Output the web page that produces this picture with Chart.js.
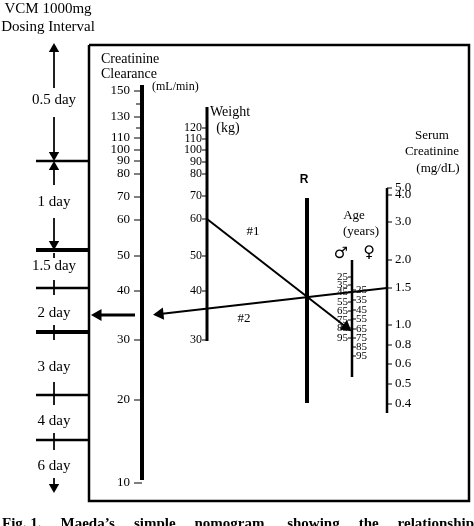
<!DOCTYPE html><html><head><meta charset="utf-8">
<script src="https://cdn.jsdelivr.net/npm/chart.js@4"></script>
<style>html,body{margin:0;padding:0;background:#fff}canvas{display:block}</style></head><body>
<canvas id="c" width="474" height="526"></canvas>
<script>
// Nomogram scales: tick values and their positions on the page grid
const crclTicks = [150,130,110,100,90,80,70,60,50,40,30,20,10];
const crclPos   = [91,117,138,150,161,174,197,220,256,291,340,400,483];
const crclMinor = [104,128];
const weightTicks = [120,110,100,90,80,70,60,50,40,30];
const weightPos   = [128,139,150,162,174,196,219,256,291,340];
const scrTicks = ['5.0','4.0','3.0','2.0','1.5','1.0','0.8','0.6','0.5','0.4'];
const scrPos   = [188,195,222,260,288,325,345,364,384,404];
const ageMale = [25,35,45,55,65,75,85,95];
const ageMalePos = [277,285,292,302,311,320,328,338];
const ageFemale = [25,35,45,55,65,75,85,95];
const ageFemalePos = [290,300,310,319,329,338,347,356];
const intervals = ['0.5 day','1 day','1.5 day','2 day','3 day','4 day','6 day'];
const intervalLabelPos = [100,202,266,313,367,421,466];
const intervalBounds = [161,250,288,332,395,440];
const captionWords = ['Fig. 1.','Maeda\u2019s','simple','nomogram,','showing','the','relationship'];

const X = {crcl:142, weight:207, R:307, age:352, scr:387, box:[89,469], interval:54};
const seg=(pts,w,extra={})=>Object.assign({data:pts.map(p=>({x:p[0],y:p[1]})),showLine:true,borderColor:'#000',borderWidth:w,pointRadius:0,fill:false},extra);
const ds=[];
ds.push(seg([[X.box[0],45],[X.box[1],45],[X.box[1],501],[X.box[0],501],[X.box[0],45]],2.5));
ds.push(seg([[X.crcl,85],[X.crcl,480]],4));
ds.push(seg([[X.weight,107],[X.weight,341]],3));
ds.push(seg([[X.R,198],[X.R,403]],4));
ds.push(seg([[X.age,260],[X.age,377]],2.5));
ds.push(seg([[X.scr,188],[X.scr,413]],2.5));
crclPos.forEach(y=>ds.push(seg([[X.crcl-8,y],[X.crcl,y]],1)));
crclMinor.forEach(y=>ds.push(seg([[X.crcl-6,y],[X.crcl,y]],1)));
weightPos.forEach(y=>ds.push(seg([[X.weight-5,y],[X.weight,y]],1)));
scrPos.forEach(y=>ds.push(seg([[X.scr,y],[X.scr+5,y]],1)));
ageMalePos.forEach(y=>ds.push(seg([[X.age-4,y],[X.age,y]],1)));
ageFemalePos.forEach(y=>ds.push(seg([[X.age,y],[X.age+4,y]],1)));
intervalBounds.forEach((y,i)=>ds.push(seg([[36,y],[X.box[0],y]],(i===1||i===3)?4:2.5)));
[[50,88],[117,158],[164,185],[218,247],[253,258],[280,295],[325,340],[382,405],[433,450],[478,488]].forEach(s=>ds.push(seg([[X.interval,s[0]],[X.interval,s[1]]],1)));
const tri=(x,y,rot,r)=>({data:[{x,y}],pointStyle:'triangle',pointRadius:r,rotation:rot,backgroundColor:'#000',borderColor:'#000',borderWidth:0,showLine:false});
ds.push(tri(X.interval,49,0,6));ds.push(tri(X.interval,155,180,6));ds.push(tri(X.interval,167,0,6));
ds.push(tri(X.interval,244,180,6));ds.push(tri(X.interval,487,180,6));
ds.push(seg([[X.weight,219],[346,327]],2));
ds.push(tri(346,327,128,7));
ds.push(seg([[X.scr,288],[160,314]],2));
ds.push(tri(160,314,-96,7));
ds.push(seg([[96,315],[135,315]],3));
ds.push(tri(98,315,-90,7));

new Chart(document.getElementById('c'),{type:'scatter',data:{datasets:ds},
options:{responsive:false,animation:false,events:[],layout:{padding:0,autoPadding:false},
plugins:{legend:{display:false},tooltip:{enabled:false}},
scales:{x:{type:'linear',min:0,max:474,display:false},y:{type:'linear',min:0,max:526,reverse:true,display:false}}},
plugins:[{id:'txt',afterDatasetsDraw(ch){
const c=ch.ctx,sx=ch.scales.x,sy=ch.scales.y;
const T=(s,x,y,al='center',f='13px "Liberation Serif"')=>{c.font=f;c.textAlign=al;c.textBaseline='middle';c.fillStyle='#000';c.fillText(s,sx.getPixelForValue(x),sy.getPixelForValue(y));};
c.save();
crclTicks.forEach((v,i)=>T(String(v),X.crcl-12,crclPos[i],'right','13px "Liberation Serif"'));
weightTicks.forEach((v,i)=>T(String(v),X.weight-5,weightPos[i],'right','12px "Liberation Serif"'));
scrTicks.forEach((v,i)=>T(v,X.scr+8,scrPos[i],'left','13px "Liberation Serif"'));
ageMale.forEach((v,i)=>T(String(v),X.age-4,ageMalePos[i],'right','11px "Liberation Serif"'));
ageFemale.forEach((v,i)=>T(String(v),X.age+4,ageFemalePos[i],'left','11px "Liberation Serif"'));
intervals.forEach((s,i)=>T(s,X.interval,intervalLabelPos[i],'center','15px "Liberation Serif"'));
T('VCM 1000mg',48,9,'center','15px "Liberation Serif"');
T('Dosing Interval',48,27,'center','15px "Liberation Serif"');
T('Creatinine',101,59,'left','14px "Liberation Serif"');
T('Clearance',101,74,'left','14px "Liberation Serif"');
T('(mL/min)',152,87,'left','12px "Liberation Serif"');
T('Weight',210,112,'left','14px "Liberation Serif"');
T('(kg)',228,128,'center','14px "Liberation Serif"');
T('R',304,180,'center','bold 12px "Liberation Sans"');
T('#1',253,232,'center','13px "Liberation Serif"');
T('#2',244,319,'center','13px "Liberation Serif"');
T('Age',354,216,'center','13px "Liberation Serif"');
T('(years)',361,232,'center','13px "Liberation Serif"');
T('\u2642',341,254,'center','16px "DejaVu Sans"');
T('\u2640',369,253,'center','16px "DejaVu Sans"');
T('Serum',432,136,'center','13px "Liberation Serif"');
T('Creatinine',432,152,'center','13px "Liberation Serif"');
T('(mg/dL)',438,169,'center','13px "Liberation Serif"');
c.font='bold 15px "Liberation Serif"';
const widths=captionWords.map(w=>c.measureText(w).width);
const total=widths.reduce((a,b)=>a+b,0);
const gap=(sx.getPixelForValue(474)-sx.getPixelForValue(2)-total)/(captionWords.length-1);
let px=sx.getPixelForValue(2);
captionWords.forEach((w,i)=>{c.textAlign='left';c.textBaseline='middle';c.fillText(w,px,sy.getPixelForValue(524));px+=widths[i]+gap;});
c.restore();}}]});
</script></body></html>
